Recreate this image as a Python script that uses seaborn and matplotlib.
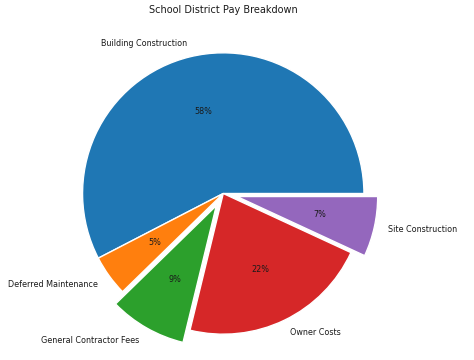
import matplotlib
matplotlib.use("Agg")
import matplotlib.pyplot as plt
import seaborn as sns

categories = ['Building Construction', 'Deferred Maintenance', 'General Contractor Fees',
              'Owner Costs', 'Site Construction']
shares = [57.6, 4.7, 8.9, 21.9, 6.9]
explode = [0, 0, 0.1, 0, 0.1]

sns.set_style("white")
plt.rcParams['font.family'] = ['DejaVu Sans']
colors = sns.color_palette("tab10", len(categories))

fig = plt.figure(figsize=(4.74, 3.6), dpi=100)
ax = fig.add_axes([0.1, -0.026, 0.742, 0.977])
wedges, texts, autotexts = ax.pie(shares, labels=categories, colors=colors, explode=explode,
                                  autopct='%1.0f%%', textprops={'fontsize': 5.8, 'color': '0.1'})
ax.set_aspect('equal')
ax.set_xlim(-1.25, 1.25)
ax.set_ylim(-1.25, 1.25)
ax.set_title('School District Pay Breakdown', fontsize=7, pad=3, color='0.1')

fig.savefig('out.png', dpi=100)
